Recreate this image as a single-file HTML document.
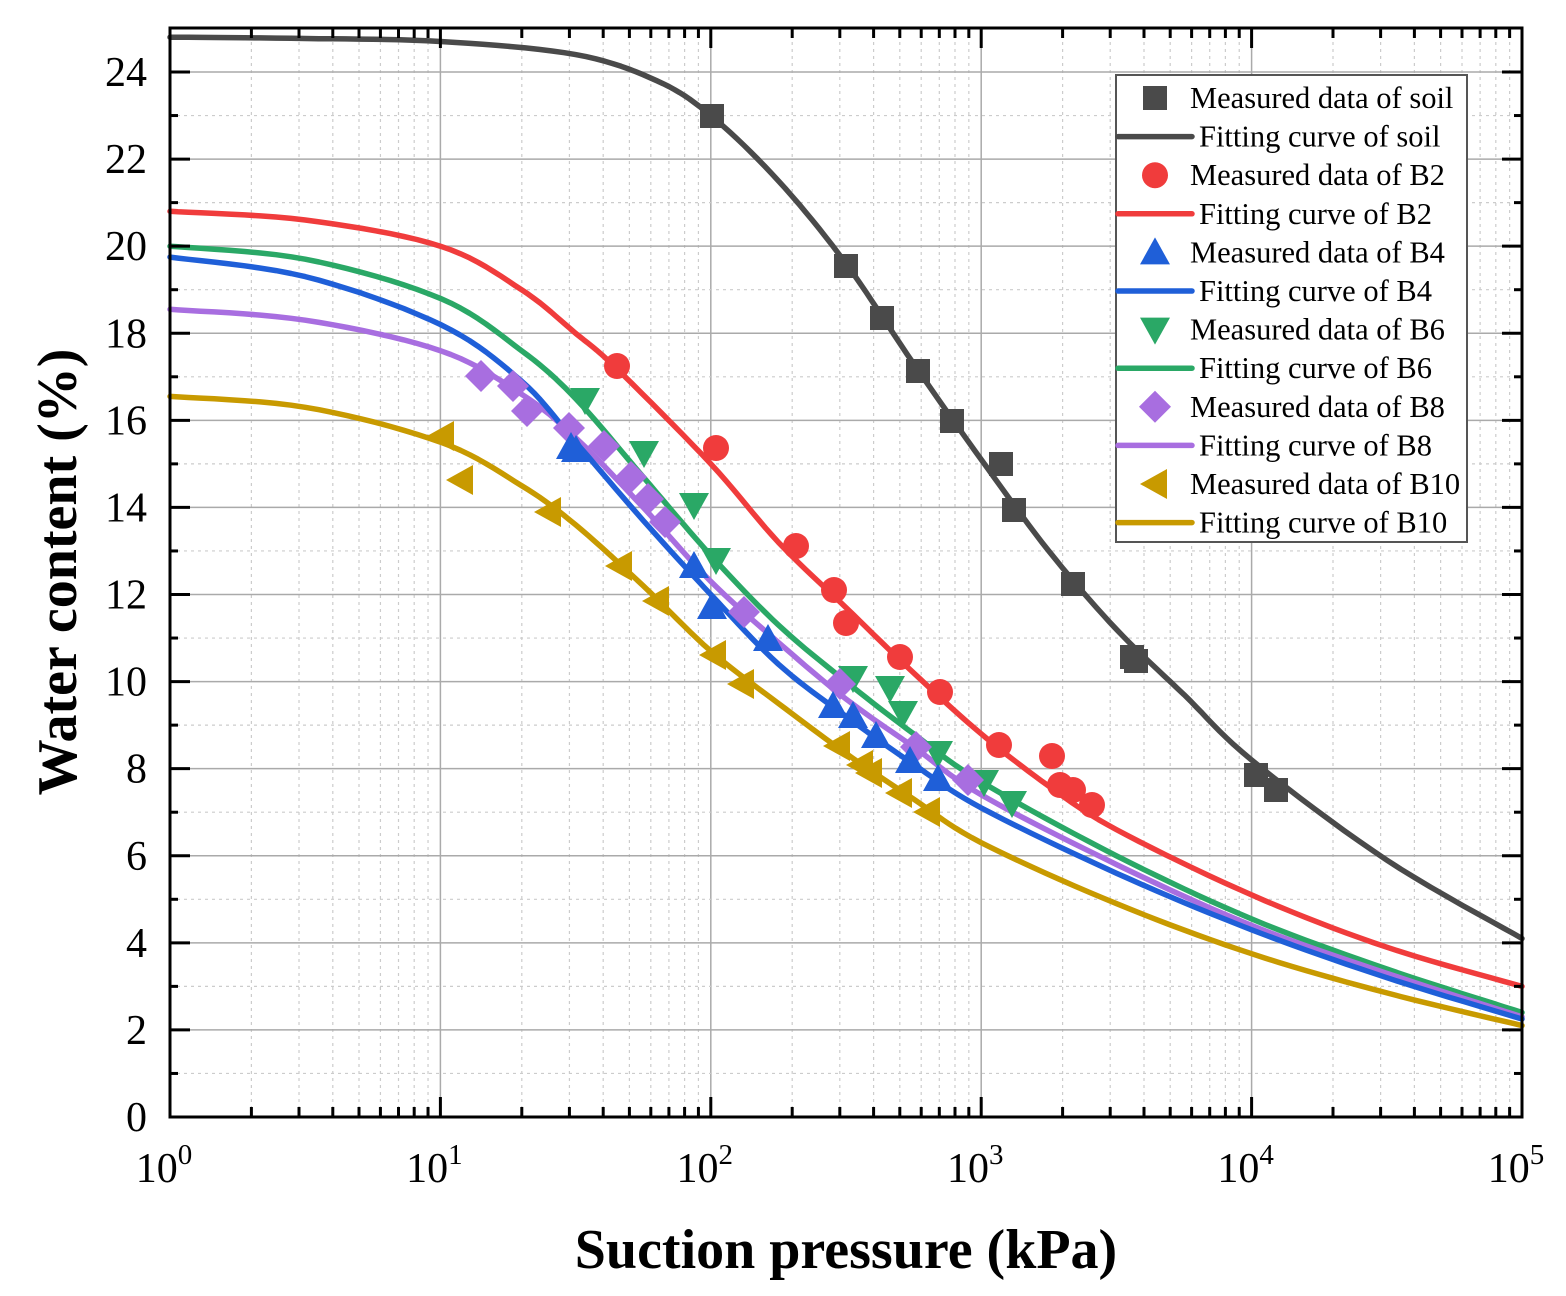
<!DOCTYPE html>
<html><head><meta charset="utf-8"><style>
html,body{margin:0;padding:0;background:#fff;}
svg{display:block;font-family:"Liberation Serif",serif;}
</style></head><body>
<svg id="s" width="1566" height="1296" viewBox="0 0 1566 1296" xmlns="http://www.w3.org/2000/svg">
<g id="grid"></g>
<g id="curves"></g>
<g id="marks"></g>
<g id="axes"></g>
<g id="legend"></g>
<text x="76" y="572" transform="rotate(-90 76 572)" text-anchor="middle" font-size="56" font-weight="bold">Water content (%)</text>
<text x="846" y="1268" text-anchor="middle" font-size="56" font-weight="bold">Suction pressure (kPa)</text>
</svg>
<script>
const NS="http://www.w3.org/2000/svg";
const X0=170,X1=1522,DX=(X1-X0)/5,Y0=1117,DY=(1117-72)/24,YT=28;
const px=l=>X0+l*DX, py=w=>Y0-w*DY;
function el(p,t,a,txt){const e=document.createElementNS(NS,t);for(const k in a)e.setAttribute(k,a[k]);if(txt!==undefined)e.textContent=txt;document.getElementById(p).appendChild(e);return e;}
for(let d=0;d<5;d++)for(let m=2;m<10;m++){const x=px(d+Math.log10(m));el('grid','line',{x1:x,x2:x,y1:YT,y2:Y0,stroke:'#ccc','stroke-width':1.2,'stroke-dasharray':'3,4'});}
for(let d=1;d<5;d++){const x=px(d);el('grid','line',{x1:x,x2:x,y1:YT,y2:Y0,stroke:'#aaa','stroke-width':1.5});}
for(let w=1;w<=25;w++){const y=py(w);if(w%2)el('grid','line',{x1:X0,x2:X1,y1:y,y2:y,stroke:'#ccc','stroke-width':1.2,'stroke-dasharray':'3,4'});else el('grid','line',{x1:X0,x2:X1,y1:y,y2:y,stroke:'#aaa','stroke-width':1.5});}
el('axes','rect',{x:X0,y:YT,width:X1-X0,height:Y0-YT,fill:'none',stroke:'#000','stroke-width':3});
for(let w=1;w<=24;w++){const y=py(w),L=w%2?8:20;el('axes','line',{x1:X0,x2:X0+L,y1:y,y2:y,stroke:'#000','stroke-width':3});el('axes','line',{x1:X1,x2:X1-L,y1:y,y2:y,stroke:'#000','stroke-width':3});
 if(w%2==0)el('axes','text',{x:147,y:y+14,'text-anchor':'end','font-size':42},w);}
el('axes','text',{x:147,y:py(0)+14,'text-anchor':'end','font-size':42},0);
for(let d=0;d<5;d++)for(let m=1;m<10;m++){if(d==0&&m==1)continue;const x=px(d+Math.log10(m)),L=m==1?20:10;
 el('axes','line',{x1:x,x2:x,y1:Y0,y2:Y0-L,stroke:'#000','stroke-width':3});el('axes','line',{x1:x,x2:x,y1:YT,y2:YT+L,stroke:'#000','stroke-width':3});}
for(let d=0;d<=5;d++){const t=el('axes','text',{x:px(d)-6,y:1182,'text-anchor':'middle','font-size':42},'10');const s=document.createElementNS(NS,'tspan');s.setAttribute('dy',-18);s.setAttribute('font-size',29);s.textContent=d;t.appendChild(s);}
function curve(pts,c){let d='';const n=pts.length;for(let i=0;i<n-1;i++){const p0=pts[Math.max(0,i-1)],p1=pts[i],p2=pts[i+1],p3=pts[Math.min(n-1,i+2)];
 for(let k=0;k<=10;k++){const t=k/10,t2=t*t,t3=t2*t;const f=(a,b,c2,e)=>0.5*(2*b+(-a+c2)*t+(2*a-5*b+4*c2-e)*t2+(-a+3*b-3*c2+e)*t3);
 const x=px(f(p0[0],p1[0],p2[0],p3[0])),y=py(f(p0[1],p1[1],p2[1],p3[1]));d+=(d?'L':'M')+x.toFixed(1)+' '+y.toFixed(1);}}
 el('curves','path',{d:d,fill:'none',stroke:c,'stroke-width':5.5,'stroke-linecap':'round','stroke-linejoin':'round'});}
const C={soil:'#4a4a4a',b2:'#f03c3c',b4:'#1f5fd8',b6:'#2aa866',b8:'#a86ee0',b10:'#c89a00'};
curve([[0,24.8],[0.5,24.77],[1,24.7],[1.5,24.4],[1.8,23.8],[2,23],[2.25,21.5],[2.5,19.6],[2.75,17.3],[3,15.1],[3.25,13],[3.5,11.2],[3.75,9.7],[4,8.2],[4.5,5.9],[5,4.1]],C.soil);
curve([[0,20.8],[0.5,20.6],[1,20],[1.3,19],[1.5,18],[1.65,17.2],[2,15],[2.25,13.2],[2.5,11.7],[2.75,10.2],[3,8.8],[3.25,7.6],[3.5,6.6],[4,5.1],[4.5,3.9],[5,3.0]],C.b2);
curve([[0,20],[0.5,19.7],[1,18.8],[1.3,17.6],[1.5,16.5],[1.75,14.7],[2,12.9],[2.25,11.3],[2.5,10],[2.75,8.8],[3,7.7],[3.5,6.0],[4,4.55],[4.5,3.4],[5,2.4]],C.b6);
curve([[0,18.55],[0.5,18.3],[1,17.6],[1.3,16.6],[1.5,15.6],[1.75,14],[2,12.3],[2.25,10.9],[2.5,9.6],[2.75,8.5],[3,7.4],[3.5,5.8],[4,4.4],[4.5,3.3],[5,2.3]],C.b8);
curve([[0,19.75],[0.5,19.3],[1,18.2],[1.3,16.9],[1.5,15.5],[1.75,13.7],[2,12.0],[2.25,10.4],[2.5,9.2],[2.75,8.1],[3,7.1],[3.5,5.6],[4,4.3],[4.5,3.2],[5,2.25]],C.b4);
curve([[0,16.55],[0.5,16.3],[1,15.5],[1.3,14.5],[1.5,13.6],[1.75,12.2],[2,10.7],[2.25,9.5],[2.5,8.35],[2.75,7.3],[3,6.3],[3.5,4.9],[4,3.75],[4.5,2.85],[5,2.1]],C.b10);
function mk(g,type,x,y,c){const s=12;let p;
 if(type=='sq')return el(g,'rect',{x:x-s,y:y-s,width:2*s,height:2*s,fill:c});
 if(type=='ci')return el(g,'circle',{cx:x,cy:y,r:13,fill:c});
 if(type=='up')p=[[x,y-15],[x+15,y+12],[x-15,y+12]];
 if(type=='dn')p=[[x,y+15],[x+15,y-12],[x-15,y-12]];
 if(type=='di')p=[[x,y-16],[x+16,y],[x,y+16],[x-16,y]];
 if(type=='lf')p=[[x-15,y],[x+12,y-15],[x+12,y+15]];
 el(g,'polygon',{points:p.map(q=>q.join(',')).join(' '),fill:c});}
const M=[
['sq',C.soil,[[712,116],[846,266],[882,318],[918,371],[952,421],[1001,464],[1014,510],[1073,584],[1132,657],[1136,661],[1256,775],[1276,790]]],
['ci',C.b2,[[617,366],[716,448],[796,546],[834,590],[846,623],[900,657],[940,692],[999,745],[1052,756],[1060,785],[1073,790],[1092,805]]],
['dn',C.b6,[[585,400],[644,453],[694,505],[716,560],[853,678],[890,688],[903,713],[938,753],[984,782],[1012,803]]],
['di',C.b8,[[481,376],[513,386],[527,411],[569,428],[604,446],[631,477],[648,499],[665,522],[744,612],[840,684],[916,747],[968,780]]],
['up',C.b4,[[571,447],[576,450],[694,566],[712,607],[768,639],[833,706],[853,716],[876,736],[910,761],[938,779]]],
['lf',C.b10,[[442,436],[461,480],[549,512],[620,566],[657,601],[714,655],[742,684],[838,746],[861,765],[870,773],[900,793],[928,812]]]];
M.forEach(m=>m[2].forEach(p=>mk('marks',m[0],p[0],p[1],m[1])));
el('legend','rect',{x:1116,y:75,width:351,height:467,fill:'#fff',stroke:'#555','stroke-width':2});
const L=[['sq',C.soil,'soil'],['ci',C.b2,'B2'],['up',C.b4,'B4'],['dn',C.b6,'B6'],['di',C.b8,'B8'],['lf',C.b10,'B10']];
L.forEach((l,i)=>{const y1=98+i*77.2,y2=y1+38.6;
 mk('legend',l[0],1155,y1,l[1]);
 el('legend','text',{x:1190,y:y1+10,'font-size':30.5},'Measured data of '+l[2]);
 el('legend','line',{x1:1118,x2:1192,y1:y2,y2:y2,stroke:l[1],'stroke-width':5.5,'stroke-linecap':'round'});
 el('legend','text',{x:1199,y:y2+10,'font-size':30.5},'Fitting curve of '+l[2]);});
</script>
</body></html>
